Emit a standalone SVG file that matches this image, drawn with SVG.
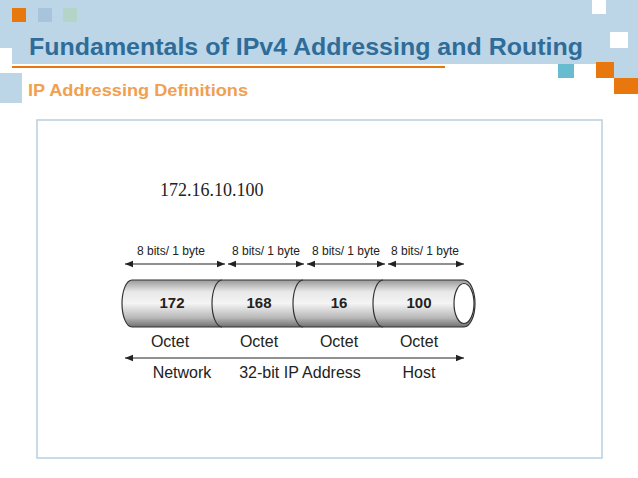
<svg xmlns="http://www.w3.org/2000/svg" width="638" height="478" viewBox="0 0 638 478">
<defs>
<linearGradient id="cyl" x1="0" y1="0" x2="0" y2="1">
<stop offset="0" stop-color="#9a9a9a"/><stop offset="0.25" stop-color="#e8e8e8"/><stop offset="0.5" stop-color="#f4f4f4"/><stop offset="0.8" stop-color="#b8b8b8"/><stop offset="1" stop-color="#707070"/>
</linearGradient>
<marker id="ah" viewBox="0 0 10 10" refX="10" refY="5" markerWidth="7" markerHeight="7" orient="auto-start-reverse"><path d="M0,1 L10,5 L0,9 z" fill="#222"/></marker>
<style>
.t{font-family:"Liberation Sans",Arial,sans-serif;fill:#222}
.sm{font-size:12px}
.md{font-size:16px}
.ar{stroke:#222;stroke-width:1.2;fill:none;marker-start:url(#ah);marker-end:url(#ah)}
.sep{stroke:#333;stroke-width:1.2;fill:none}
</style>
</defs>
<rect width="638" height="478" fill="#fff"/>
<g id="header">
<rect x="0" y="0" width="638" height="64" fill="#bcd6e8"/>
<rect x="592" y="0" width="14" height="14" fill="#fff"/>
<rect x="610" y="32" width="18" height="16" fill="#fff"/>
<rect x="0" y="48" width="12" height="16" fill="#fff"/>
<rect x="12" y="8" width="14" height="14" fill="#e8770e"/>
<rect x="38" y="8" width="14" height="14" fill="#a8c4dc"/>
<rect x="63" y="8" width="14" height="14" fill="#b4d4c8"/>
<rect x="0" y="73" width="22" height="30" fill="#bcd6e8"/>
<rect x="558" y="64" width="16" height="14" fill="#68bcd0"/>
<rect x="596" y="62" width="18" height="16" fill="#e8770e"/>
<rect x="614" y="78" width="24" height="16" fill="#e8770e"/>
<rect x="614" y="62" width="24" height="16" fill="#bcd6e8"/>
<rect x="12" y="66" width="433" height="2" fill="#e8770e"/>
<text x="29" y="55" font-family="Liberation Sans,Arial,sans-serif" font-weight="bold" font-size="24" fill="#2f6c98" textLength="554" lengthAdjust="spacingAndGlyphs">Fundamentals of IPv4 Addressing and Routing</text>
<text x="28" y="96" font-family="Liberation Sans,Arial,sans-serif" font-weight="bold" font-size="17" fill="#f0a050" textLength="220" lengthAdjust="spacingAndGlyphs">IP Addressing Definitions</text>
</g>
<rect x="37" y="120" width="565" height="338" fill="#fff" stroke="#b8d0e0" stroke-width="1.5"/>
<g id="address"><text x="160" y="196" font-size="18" fill="#222" style="font-family:'Liberation Serif',serif">172.16.10.100</text></g>
<g id="cylinder">
<path d="M132,280 L464,280 A11,23.5 0 0 1 464,327 L132,327 A10,23.5 0 0 1 132,280 z" fill="url(#cyl)" stroke="#333" stroke-width="1.2"/>
<ellipse cx="464" cy="303.5" rx="10" ry="20" fill="#fff" stroke="#333" stroke-width="1.2"/>
<path class="sep" d="M222,280 A10,23.5 0 0 0 222,327"/>
<path class="sep" d="M303,280 A10,23.5 0 0 0 303,327"/>
<path class="sep" d="M383,280 A10,23.5 0 0 0 383,327"/>
</g>
<g id="octets" class="t md">
<text x="172" y="308" text-anchor="middle" font-weight="bold" font-size="15">172</text>
<text x="259" y="308" text-anchor="middle" font-weight="bold" font-size="15">168</text>
<text x="339" y="308" text-anchor="middle" font-weight="bold" font-size="15">16</text>
<text x="419" y="308" text-anchor="middle" font-weight="bold" font-size="15">100</text>
<text x="170" y="347" text-anchor="middle">Octet</text>
<text x="259" y="347" text-anchor="middle">Octet</text>
<text x="339" y="347" text-anchor="middle">Octet</text>
<text x="419" y="347" text-anchor="middle">Octet</text>
<text x="182" y="378" text-anchor="middle">Network</text>
<text x="300" y="378" text-anchor="middle">32-bit IP Address</text>
<text x="419" y="378" text-anchor="middle">Host</text>
</g>
<g id="bytes" class="t sm">
<text x="171" y="255" text-anchor="middle">8 bits/ 1 byte</text>
<text x="266" y="255" text-anchor="middle">8 bits/ 1 byte</text>
<text x="346" y="255" text-anchor="middle">8 bits/ 1 byte</text>
<text x="425" y="255" text-anchor="middle">8 bits/ 1 byte</text>
</g>
<g id="connectors">
<line class="ar" x1="125" y1="264" x2="225" y2="264"/>
<line class="ar" x1="228" y1="264" x2="304" y2="264"/>
<line class="ar" x1="307" y1="264" x2="385" y2="264"/>
<line class="ar" x1="388" y1="264" x2="464" y2="264"/>
<line class="ar" x1="125" y1="358" x2="464" y2="358"/>
</g>
</svg>
